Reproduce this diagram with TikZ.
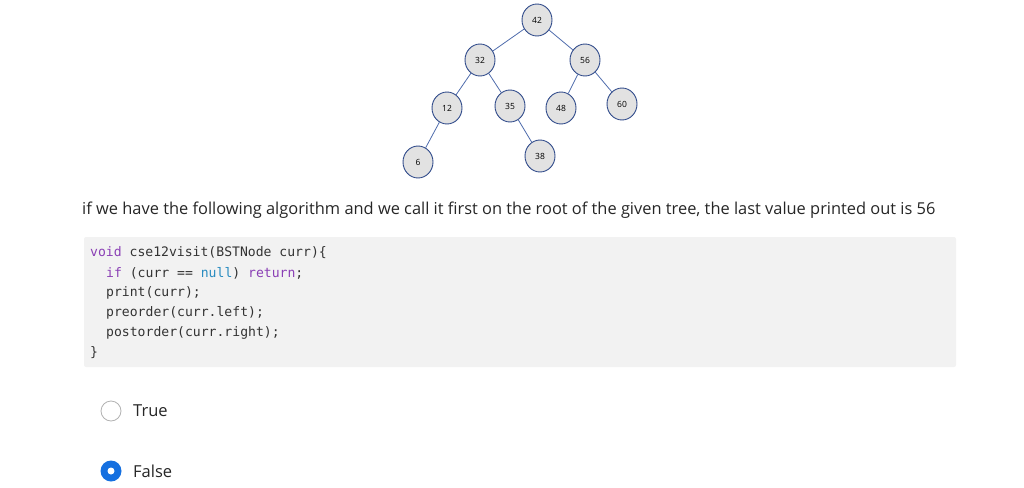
\documentclass[tikz,border=0pt]{standalone}
\usepackage{fontspec}
\usetikzlibrary{shapes.geometric}
\setmainfont{Open Sans}
\newfontfamily\codefont{DejaVu Sans Mono}
\definecolor{nodefill}{HTML}{E2E2E2}
\definecolor{nodeline}{HTML}{2F4A8A}
\definecolor{edgec}{HTML}{4F6CAC}
\definecolor{kw}{HTML}{8A3FB5}
\definecolor{nl}{HTML}{2A8CC0}
\definecolor{codebg}{HTML}{F2F2F2}
\definecolor{radio}{HTML}{1570E0}
\begin{document}
\begin{tikzpicture}[x=1pt,y=-1pt,
  tn/.style={ellipse,draw=nodeline,line width=0.9pt,fill=nodefill,minimum width=30pt,minimum height=32pt,inner sep=0pt,font=\fontsize{8.5}{9}\selectfont},
  ed/.style={draw=edgec,line width=0.8pt},
  cl/.style={anchor=west,font=\codefont\fontsize{13.1}{14}\selectfont,text=black!80,inner sep=0pt},
  lbl/.style={anchor=west,font=\fontsize{16.5}{18}\selectfont,text=black!85,inner sep=0pt}]
\useasboundingbox (0,0) rectangle (1024,487);
\node[tn] (n42) at (537,20) {42};
\node[tn] (n32) at (480,60) {32};
\node[tn] (n56) at (585,60) {56};
\node[tn] (n12) at (447,108) {12};
\node[tn] (n35) at (510,106) {35};
\node[tn] (n48) at (561,108) {48};
\node[tn] (n60) at (622,104) {60};
\node[tn] (n6) at (418,162) {6};
\node[tn] (n38) at (540,156) {38};
\draw[ed] (n42)--(n32) (n42)--(n56) (n32)--(n12) (n32)--(n35) (n56)--(n48) (n56)--(n60) (n12)--(n6) (n35)--(n38);
\node[anchor=west,inner sep=0pt,font=\fontsize{16.4}{18}\selectfont,text=black!85] (q) at (82,210) {if we have the following algorithm and we call it first on the root of the given tree, the last value printed out is 56};
\fill[codebg,rounded corners=2pt] (84,237) rectangle (956,367);
\node[cl] (c1) at (90,253) {\textcolor{kw}{void} cse12visit(BSTNode curr)\{};
\node[cl] (c2) at (106,273) {\textcolor{kw}{if} (curr == \textcolor{nl}{null}) \textcolor{kw}{return};};
\node[cl] (c3) at (106,293) {print(curr);};
\node[cl] (c4) at (106,313) {preorder(curr.left);};
\node[cl] (c5) at (106,333) {postorder(curr.right);};
\node[cl] (c6) at (90,353) {\}};
\draw[black!30,line width=0.8pt,fill=white] (111,411) circle (10);
\node[lbl] (t) at (133,411) {True};
\fill[radio] (111,471) circle (10.5);
\fill[white] (111,471) circle (3.5);
\node[lbl] (f) at (133,471) {False};
\end{tikzpicture}
\end{document}
